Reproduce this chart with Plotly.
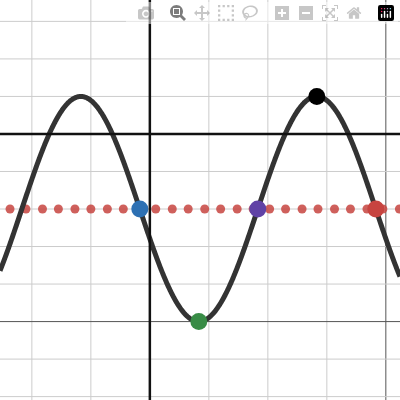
import numpy as np
import plotly.graph_objects as go

amplitude = 3.0
midline = -2.0
period = 4.0
phase = -0.17

dot_x = [-2.37,-2.10,-1.82,-1.55,-1.27,-1.0,-0.72,-0.45,-0.17,0.10,0.38,0.65,0.93,1.20,
         1.48,1.75,2.03,2.30,2.58,2.85,3.13,3.40,3.68,3.95,4.23]
dot_y = [-2.0]*len(dot_x)

pt_x = [-0.17, 0.83, 1.83, 2.83, 3.83]
pt_y = [-2.0, -5.0, -2.0, 1.0, -2.0]
pt_colors = ["#2d70b3", "#388c46", "#6042a6", "#000000", "#c74440"]

xr = [-2.54, 4.24]
yr = [-7.09, 3.57]

xs = np.linspace(xr[0], xr[1], 600)
ys = -amplitude*np.sin(2*np.pi*(xs-phase)/period) + midline

fig = go.Figure()
for gx in range(-2, 5):
    if gx == 0: continue
    fig.add_shape(type="line", x0=gx, x1=gx, y0=yr[0], y1=yr[1],
                  line=dict(color="#555" if gx == 4 else "#ccc", width=1), layer="below")
for gy in range(-7, 4):
    if gy == 0: continue
    fig.add_shape(type="line", x0=xr[0], x1=xr[1], y0=gy, y1=gy,
                  line=dict(color="#555" if gy == -5 else "#ccc", width=1), layer="below")
fig.add_shape(type="line", x0=0, x1=0, y0=yr[0], y1=yr[1], line=dict(color="#111", width=2.5))
fig.add_shape(type="line", x0=xr[0], x1=xr[1], y0=0, y1=0, line=dict(color="#111", width=2.5))

fig.add_trace(go.Scatter(x=dot_x, y=dot_y, mode="markers",
                         marker=dict(color="#c74440", size=9, opacity=0.85)))
fig.add_trace(go.Scatter(x=xs, y=ys, mode="lines", line=dict(color="#333", width=5, shape="spline")))
fig.add_trace(go.Scatter(x=pt_x, y=pt_y, mode="markers",
                         marker=dict(color=pt_colors, size=17)))

fig.update_layout(width=400, height=400, margin=dict(l=0, r=0, t=0, b=0),
                  plot_bgcolor="white", paper_bgcolor="white", showlegend=False,
                  xaxis=dict(range=xr, visible=False, showgrid=False, zeroline=False),
                  yaxis=dict(range=yr, visible=False, showgrid=False, zeroline=False))
fig.write_html("out.html", post_script="document.body.style.margin='0';document.body.style.overflow='hidden';")
